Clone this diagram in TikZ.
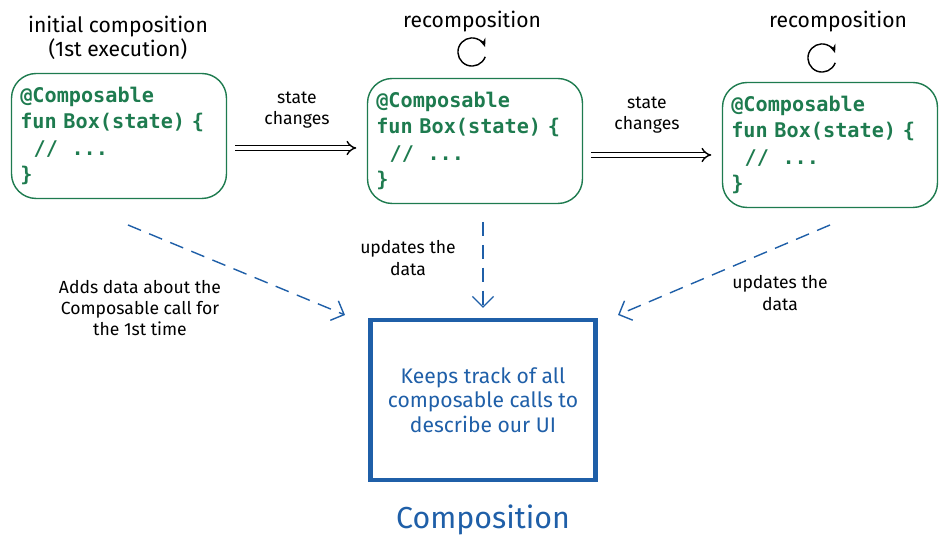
\documentclass[tikz,border=0pt]{standalone}
\usepackage{fontspec}
\setmainfont{Fira Sans}
\newfontfamily\codefont{DejaVu Sans Mono}
\usetikzlibrary{arrows.meta}
\definecolor{cgreen}{HTML}{1E7B4F}
\definecolor{cblue}{HTML}{1F5FA8}
\begin{document}
\begin{tikzpicture}[x=0.02cm,y=-0.02cm]
\tikzset{
  comp/.style={draw=cgreen,thick,rounded corners=14pt,minimum width=4.3cm,minimum height=2.5cm,
    inner sep=2pt,text=cgreen,font=\codefont\bfseries\fontsize{11.5}{15}\selectfont,align=left,text width=3.95cm},
  lbl/.style={font=\normalsize,align=center},
  push/.style={double,double distance=2pt,thick,-{Implies}},
  upd/.style={draw=cblue,thick,dashed,dash pattern=on 8pt off 5pt,-{Straight Barb[length=6pt,width=12pt]}},
  spin/.style={thick,-{Stealth[length=5pt]}}
}
\useasboundingbox (0,0) rectangle (948,546);
\node[comp] (b1) at (119,136) {@Composable\\fun Box(state) \{\\\ \ //\ \ ...\\\}};
\node[comp] (b2) at (475,141) {@Composable\\fun Box(state) \{\\\ \ //\ \ ...\\\}};
\node[comp] (b3) at (830,145) {@Composable\\fun Box(state) \{\\\ \ //\ \ ...\\\}};
\node[draw=cblue,line width=2.5pt,minimum width=4.5cm,minimum height=3.2cm,text=cblue,
  font=\large,align=center] (store) at (483,400)
  {Keeps track of all\\composable calls to\\describe our UI};
\node[text=cblue,font=\LARGE] (title) at (483,520) {Composition};
\node[lbl,font=\large] (t1) at (118,38) {initial composition\\(1st execution)};
\node[lbl,font=\large] (t2) at (472,22) {recomposition};
\node[lbl,font=\large] (t3) at (838,22) {recomposition};
\coordinate (l2) at (472,52);
\coordinate (l3) at (822,58);
\draw[spin] ([shift={(-20:8pt)}]l2) arc (-20:-340:8pt);
\draw[spin] ([shift={(-20:8pt)}]l3) arc (-20:-340:8pt);
\draw[push] (b1.east) ++(8,12) coordinate (p1) -- ([xshift=-6]b2.west |- p1) coordinate (p2);
\draw[push] (b2.east) ++(8,14) coordinate (p3) -- ([xshift=-6]b3.west |- p3) coordinate (p4);
\node[lbl] (s1) at (297,110) {state\\changes};
\node[lbl] (s2) at (647,115) {state\\changes};
\coordinate (d1) at (128,225);
\coordinate (d2) at (483,222);
\coordinate (d3) at (830,225);
\draw[upd] (d1) -- (345,315);
\draw[upd] (d2) -- (483,308);
\draw[upd] (d3) -- (618,315);
\node[lbl] (a1) at (140,308) {Adds data about the\\Composable call for\\the 1st time};
\node[lbl] (a2) at (408,258) {updates the\\data};
\node[lbl] (a3) at (780,293) {updates the\\data};
\end{tikzpicture}
\end{document}
